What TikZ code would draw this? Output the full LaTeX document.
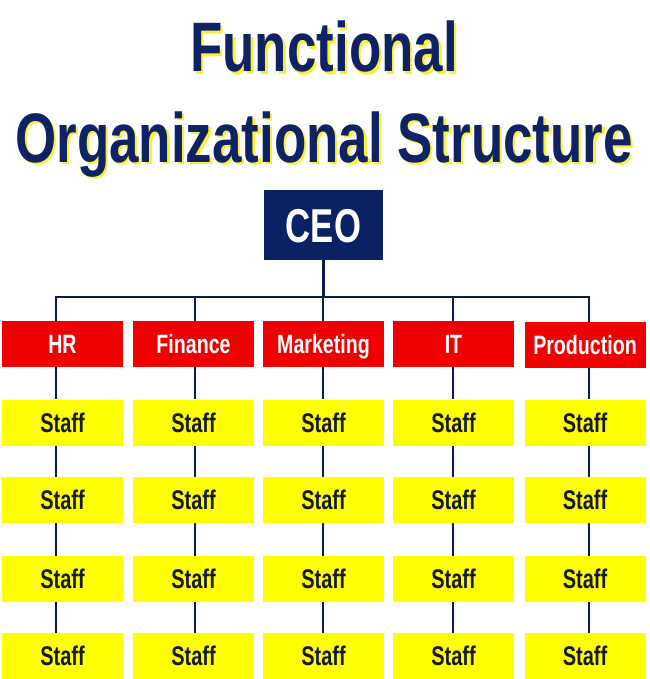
\documentclass[tikz,border=0pt]{standalone}
\usepackage{fontspec}
\setmainfont{Liberation Sans}
\usepackage{graphicx}
\usetikzlibrary{backgrounds}
\definecolor{navy}{RGB}{14,34,100}
\definecolor{ceofill}{RGB}{10,33,99}
\definecolor{linec}{RGB}{12,26,80}
\definecolor{deptred}{RGB}{240,0,0}
\definecolor{staffyel}{RGB}{255,255,0}
\definecolor{stafftext}{RGB}{22,26,48}
\definecolor{shadowyel}{RGB}{248,242,50}
\newcommand{\narrowtext}[2]{\scalebox{#1}[1]{#2}}
\begin{document}
\begin{tikzpicture}[x=1pt,y=1pt,
  titletext/.style={anchor=base, inner sep=0pt, font=\fontsize{70}{80}\selectfont\bfseries},
  ceobox/.style={fill=ceofill, minimum width=119pt, minimum height=70pt, inner sep=0pt, text=white,
    font=\fontsize{47.5}{50}\selectfont\bfseries, text height=34pt, text depth=0pt},
  deptbox/.style={fill=deptred, minimum width=121pt, minimum height=46pt, inner sep=0pt, text=white,
    font=\fontsize{26.5}{30}\selectfont\bfseries, text height=19pt, text depth=0pt},
  staffbox/.style={fill=staffyel, minimum width=121pt, minimum height=46pt, inner sep=0pt, text=stafftext,
    font=\fontsize{27}{30}\selectfont\bfseries, text height=19.4pt, text depth=0pt},
  conn/.style={draw=linec, line width=2.4pt}
]
\useasboundingbox (0,0) rectangle (649,-679);

% title with yellow shadow
\node[titletext, text=shadowyel] (t1s) at (326.5,-74.5) {\narrowtext{0.756}{Functional}};
\node[titletext, text=navy] (t1) at (324,-72) {\narrowtext{0.756}{Functional}};
\node[titletext, text=shadowyel] (t2s) at (326.5,-164.5) {\narrowtext{0.756}{Organizational Structure}};
\node[titletext, text=navy] (t2) at (324,-162) {\narrowtext{0.756}{Organizational Structure}};

% CEO
\node[ceobox] (ceo) at (323.5,-225) {\narrowtext{0.73}{CEO}};

% departments and staff
\foreach \i/\x/\lx/\name/\dy in {1/62.5/56/HR/344, 2/193.5/195/Finance/344, 3/323.5/323/Marketing/344, 4/453.5/453/IT/344, 5/585/589/Production/345} {
  \node[deptbox] (d\i) at (\x,-\dy) {\narrowtext{0.74}{\name}};
  \foreach \r/\ry in {1/422.5,2/500,3/579,4/656}
    \node[staffbox] (s\i\r) at (\x,-\ry) {\narrowtext{0.74}{Staff}};
  \coordinate (b\i) at (\lx,-297);
}

% connectors
\begin{scope}[on background layer]
  \fill[white] (0,0) rectangle (649,-679);
  \draw[conn] (ceo.south) -- (ceo.south |- b3);
  \draw[conn] (b1 |- d1.north) -- (b1) -- (b5) -- (b5 |- d5.north);
  \foreach \i in {2,3,4} \draw[conn] (b\i) -- (b\i |- d\i.north);
  \foreach \i in {1,...,5} {
    \draw[conn] (b\i |- d\i.south) -- (b\i |- s\i1.north);
    \draw[conn] (b\i |- s\i1.south) -- (b\i |- s\i2.north);
    \draw[conn] (b\i |- s\i2.south) -- (b\i |- s\i3.north);
    \draw[conn] (b\i |- s\i3.south) -- (b\i |- s\i4.north);
  }
\end{scope}
\end{tikzpicture}
\end{document}
